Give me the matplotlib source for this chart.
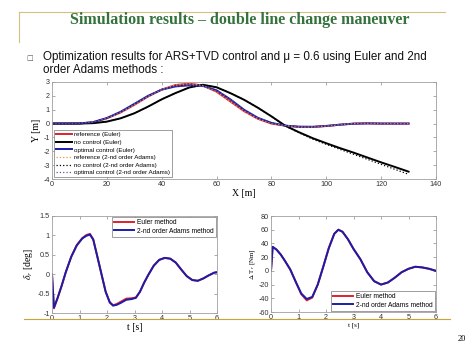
import numpy as np
import matplotlib
matplotlib.use("Agg")
import matplotlib.pyplot as plt
from matplotlib.lines import Line2D

plt.rcParams['font.family'] = ['Liberation Sans', 'DejaVu Sans']
plt.rcParams['mathtext.fontset'] = 'stix'
plt.rcParams['axes.unicode_minus'] = False

# top plot: lateral position vs longitudinal position
x_m = [0, 5, 10, 15, 20, 25, 30, 35, 40, 45, 50, 55, 60, 65,
       70, 75, 80, 85, 90, 95, 100, 105, 110, 115, 120, 125, 130]
y_ref_euler = [0, 0, 0.01, 0.1, 0.38, 0.8, 1.35, 1.95, 2.45, 2.78, 2.88, 2.75, 2.3, 1.6,
               0.9, 0.35, 0.0, -0.15, -0.25, -0.25, -0.18, -0.08, 0.0, 0.02, 0.0, 0.0, 0.0]
y_noc_euler = [0, 0, 0, 0.03, 0.14, 0.38, 0.74, 1.22, 1.75, 2.2, 2.6, 2.8, 2.62, 2.2,
               1.72, 1.15, 0.52, -0.15, -0.62, -1.05, -1.42, -1.77, -2.1, -2.45, -2.8, -3.13, -3.47]
y_opt_euler = [0, 0, 0.01, 0.1, 0.4, 0.85, 1.42, 2.0, 2.45, 2.68, 2.76, 2.72, 2.4, 1.75,
               1.0, 0.42, 0.05, -0.15, -0.22, -0.23, -0.17, -0.08, -0.01, 0.01, 0.0, 0.0, 0.0]
y_ref_adams = [0, 0, 0.01, 0.1, 0.38, 0.8, 1.35, 1.95, 2.45, 2.78, 2.88, 2.75, 2.3, 1.6,
               0.9, 0.35, 0.0, -0.15, -0.25, -0.25, -0.18, -0.08, 0.0, 0.02, 0.0, 0.0, 0.0]
y_noc_adams = [0, 0, 0, 0.03, 0.14, 0.38, 0.74, 1.22, 1.75, 2.2, 2.6, 2.8, 2.62, 2.2,
               1.72, 1.15, 0.52, -0.17, -0.66, -1.12, -1.5, -1.86, -2.22, -2.58, -2.94, -3.3, -3.66]
y_opt_adams = [0, 0, 0.01, 0.1, 0.4, 0.85, 1.42, 2.0, 2.45, 2.68, 2.76, 2.72, 2.4, 1.75,
               1.0, 0.42, 0.05, -0.15, -0.22, -0.23, -0.17, -0.08, -0.01, 0.01, 0.0, 0.0, 0.0]

# bottom left: rear steering angle
t_d = [0, 0.07, 0.2, 0.35, 0.5, 0.7, 0.9, 1.1, 1.25, 1.38, 1.5, 1.65, 1.8, 1.95, 2.1, 2.22,
       2.35, 2.5, 2.7, 2.9, 3.05, 3.2, 3.35, 3.5, 3.7, 3.9, 4.1, 4.3, 4.5, 4.7, 4.9,
       5.1, 5.3, 5.5, 5.7, 5.9, 6.0]
d_euler = [0, -0.88, -0.62, -0.3, 0.05, 0.45, 0.75, 0.93, 1.01, 1.04, 0.9, 0.45, 0.0, -0.45,
           -0.72, -0.8, -0.77, -0.71, -0.63, -0.62, -0.6, -0.45, -0.22, -0.02, 0.22, 0.37,
           0.42, 0.4, 0.3, 0.12, -0.05, -0.15, -0.17, -0.11, -0.03, 0.04, 0.05]
d_adams = [0, -0.86, -0.62, -0.3, 0.05, 0.45, 0.74, 0.92, 0.99, 1.02, 0.89, 0.45, 0.0, -0.45,
           -0.73, -0.81, -0.79, -0.74, -0.66, -0.64, -0.61, -0.45, -0.22, -0.02, 0.22, 0.37,
           0.42, 0.4, 0.3, 0.12, -0.05, -0.15, -0.17, -0.11, -0.03, 0.04, 0.05]

# bottom right: torque difference
t_T = [0, 0.06, 0.2, 0.35, 0.5, 0.7, 0.9, 1.1, 1.3, 1.5, 1.7, 1.9, 2.1, 2.3, 2.45,
       2.6, 2.8, 3.0, 3.25, 3.5, 3.75, 4.0, 4.25, 4.5, 4.75, 5.0, 5.25, 5.5, 5.75, 6.0]
T_euler = [0, 35, 31, 24, 15, 2, -16, -34, -43, -39, -20, 6, 33, 54, 60,
           57, 46, 32, 17, -2, -15, -20, -17, -10, -2, 3, 6, 5, 3, 0]
T_adams = [0, 35, 31, 24, 15, 2, -16, -33, -41, -38, -20, 6, 33, 54, 60,
           57, 46, 32, 17, -2, -15, -20, -17, -10, -2, 3, 6, 5, 3, 0]

red = '#e0202c'
blue = '#1c1caa'
gold = '#c9a23a'
frame = '#a0a0a0'

fig = plt.figure(figsize=(4.74, 3.55), dpi=100)

# slide decoration
fig.add_artist(Line2D([19/474, 445/474], [1-12/355, 1-12/355], color='#d2c083', lw=0.8))
fig.add_artist(Line2D([19/474, 19/474], [1-12/355, 1-42/355], color='#d2c083', lw=0.8))
fig.add_artist(Line2D([24/474, 450/474], [1-319/355, 1-319/355], color=gold, lw=0.8))
fig.text(240/474, 1-20/355, 'Simulation results \u2013 double line change maneuver',
         family='Liberation Serif', fontweight='bold', fontsize=11.5, color='#35723e',
         ha='center', va='center')
fig.text(30/474, 1-58/355, '\u25a1', fontsize=5, color='#555555', ha='center', va='center',
         family='DejaVu Sans')
fig.text(43/474, 1-57/355, 'Optimization results for ARS+TVD control and \u03bc = 0.6 using Euler and 2nd',
         fontsize=8.4, ha='left', va='center', color='#111111')
fig.text(43/474, 1-70/355, 'order Adams methods :', fontsize=8.4, ha='left', va='center', color='#111111')
fig.text(462/474, 1-339/355, '20', family='Liberation Serif', fontsize=6, ha='center', va='center')


def style(ax):
    for s in ax.spines.values():
        s.set_color(frame)
        s.set_linewidth(0.6)
    ax.tick_params(direction='in', length=2, width=0.5, color='#888888', labelsize=5.2,
                   labelcolor='#333333', top=True, right=True, pad=1.5)


# top plot
ax1 = fig.add_axes([52/474, 1-179/355, 384/474, 97/355])
ax1.plot(x_m, y_ref_euler, color=red, lw=1.4, label='reference (Euler)')
ax1.plot(x_m, y_noc_euler, color='black', lw=1.4, label='no control (Euler)')
ax1.plot(x_m, y_opt_euler, color=blue, lw=1.4, label='optimal control (Euler)')
ax1.plot(x_m, y_ref_adams, color='#e89a4a', lw=0.9, ls=':', label='reference (2-nd order Adams)')
ax1.plot(x_m, y_noc_adams, color='black', lw=0.9, ls=':', label='no control (2-nd order Adams)')
ax1.plot(x_m, y_opt_adams, color='#5a5a8a', lw=0.9, ls=':', label='optimal control (2-nd order Adams)')
ax1.set_xlim(0, 140)
ax1.set_ylim(-4, 3)
ax1.set_xticks(range(0, 141, 20))
ax1.set_yticks(range(-4, 4))
ax1.set_xlabel('X [m]', family='Liberation Serif', fontsize=7, labelpad=1)
ax1.set_ylabel('Y [m]', family='Liberation Serif', fontsize=7, labelpad=2)
style(ax1)
leg = ax1.legend(loc='lower left', fontsize=4.5, handlelength=2.6, labelspacing=0.35,
                 borderaxespad=0.3, borderpad=0.3, handletextpad=0.4, fancybox=False,
                 framealpha=1)
leg.get_frame().set_edgecolor('#777777')
leg.get_frame().set_linewidth(0.5)

# bottom left
ax2 = fig.add_axes([52/474, 1-313/355, 165/474, 97/355])
ax2.plot(t_d, d_euler, color=red, lw=1.4, label='Euler method')
ax2.plot(t_d, d_adams, color=blue, lw=1.4, label='2-nd order Adams method')
ax2.set_xlim(0, 6)
ax2.set_ylim(-1, 1.5)
ax2.set_xticks(range(0, 7))
ax2.set_yticks([-1, -0.5, 0, 0.5, 1, 1.5])
ax2.set_yticklabels(['-1', '-0.5', '0', '0.5', '1', '1.5'])
ax2.set_xlabel('t [s]', family='Liberation Serif', fontsize=7, labelpad=1)
ax2.set_ylabel(r'$\delta_r$ [deg]', family='Liberation Serif', fontsize=7, labelpad=2)
style(ax2)
leg = ax2.legend(loc='upper right', fontsize=4.8, handlelength=3, labelspacing=0.2,
                 borderaxespad=0.2, borderpad=0.3, handletextpad=0.4, fancybox=False,
                 framealpha=1)
leg.get_frame().set_edgecolor('#777777')
leg.get_frame().set_linewidth(0.5)

# bottom right
ax3 = fig.add_axes([271/474, 1-312/355, 165/474, 96/355])
ax3.plot(t_T, T_euler, color=red, lw=1.4, label='Euler method')
ax3.plot(t_T, T_adams, color=blue, lw=1.4, label='2-nd order Adams method')
ax3.set_xlim(0, 6)
ax3.set_ylim(-60, 80)
ax3.set_xticks(range(0, 7))
ax3.set_yticks(range(-60, 81, 20))
ax3.set_xlabel('t [s]', family='Liberation Serif', fontsize=5, labelpad=1)
ax3.set_ylabel(r'$\Delta$ T$_r$ [Nm]', family='Liberation Serif', fontsize=5, labelpad=1)
style(ax3)
leg = ax3.legend(loc='lower right', fontsize=4.8, handlelength=3, labelspacing=0.2,
                 borderaxespad=0.2, borderpad=0.3, handletextpad=0.4, fancybox=False,
                 framealpha=1)
leg.get_frame().set_edgecolor('#777777')
leg.get_frame().set_linewidth(0.5)

fig.savefig('out.png', dpi=100)
